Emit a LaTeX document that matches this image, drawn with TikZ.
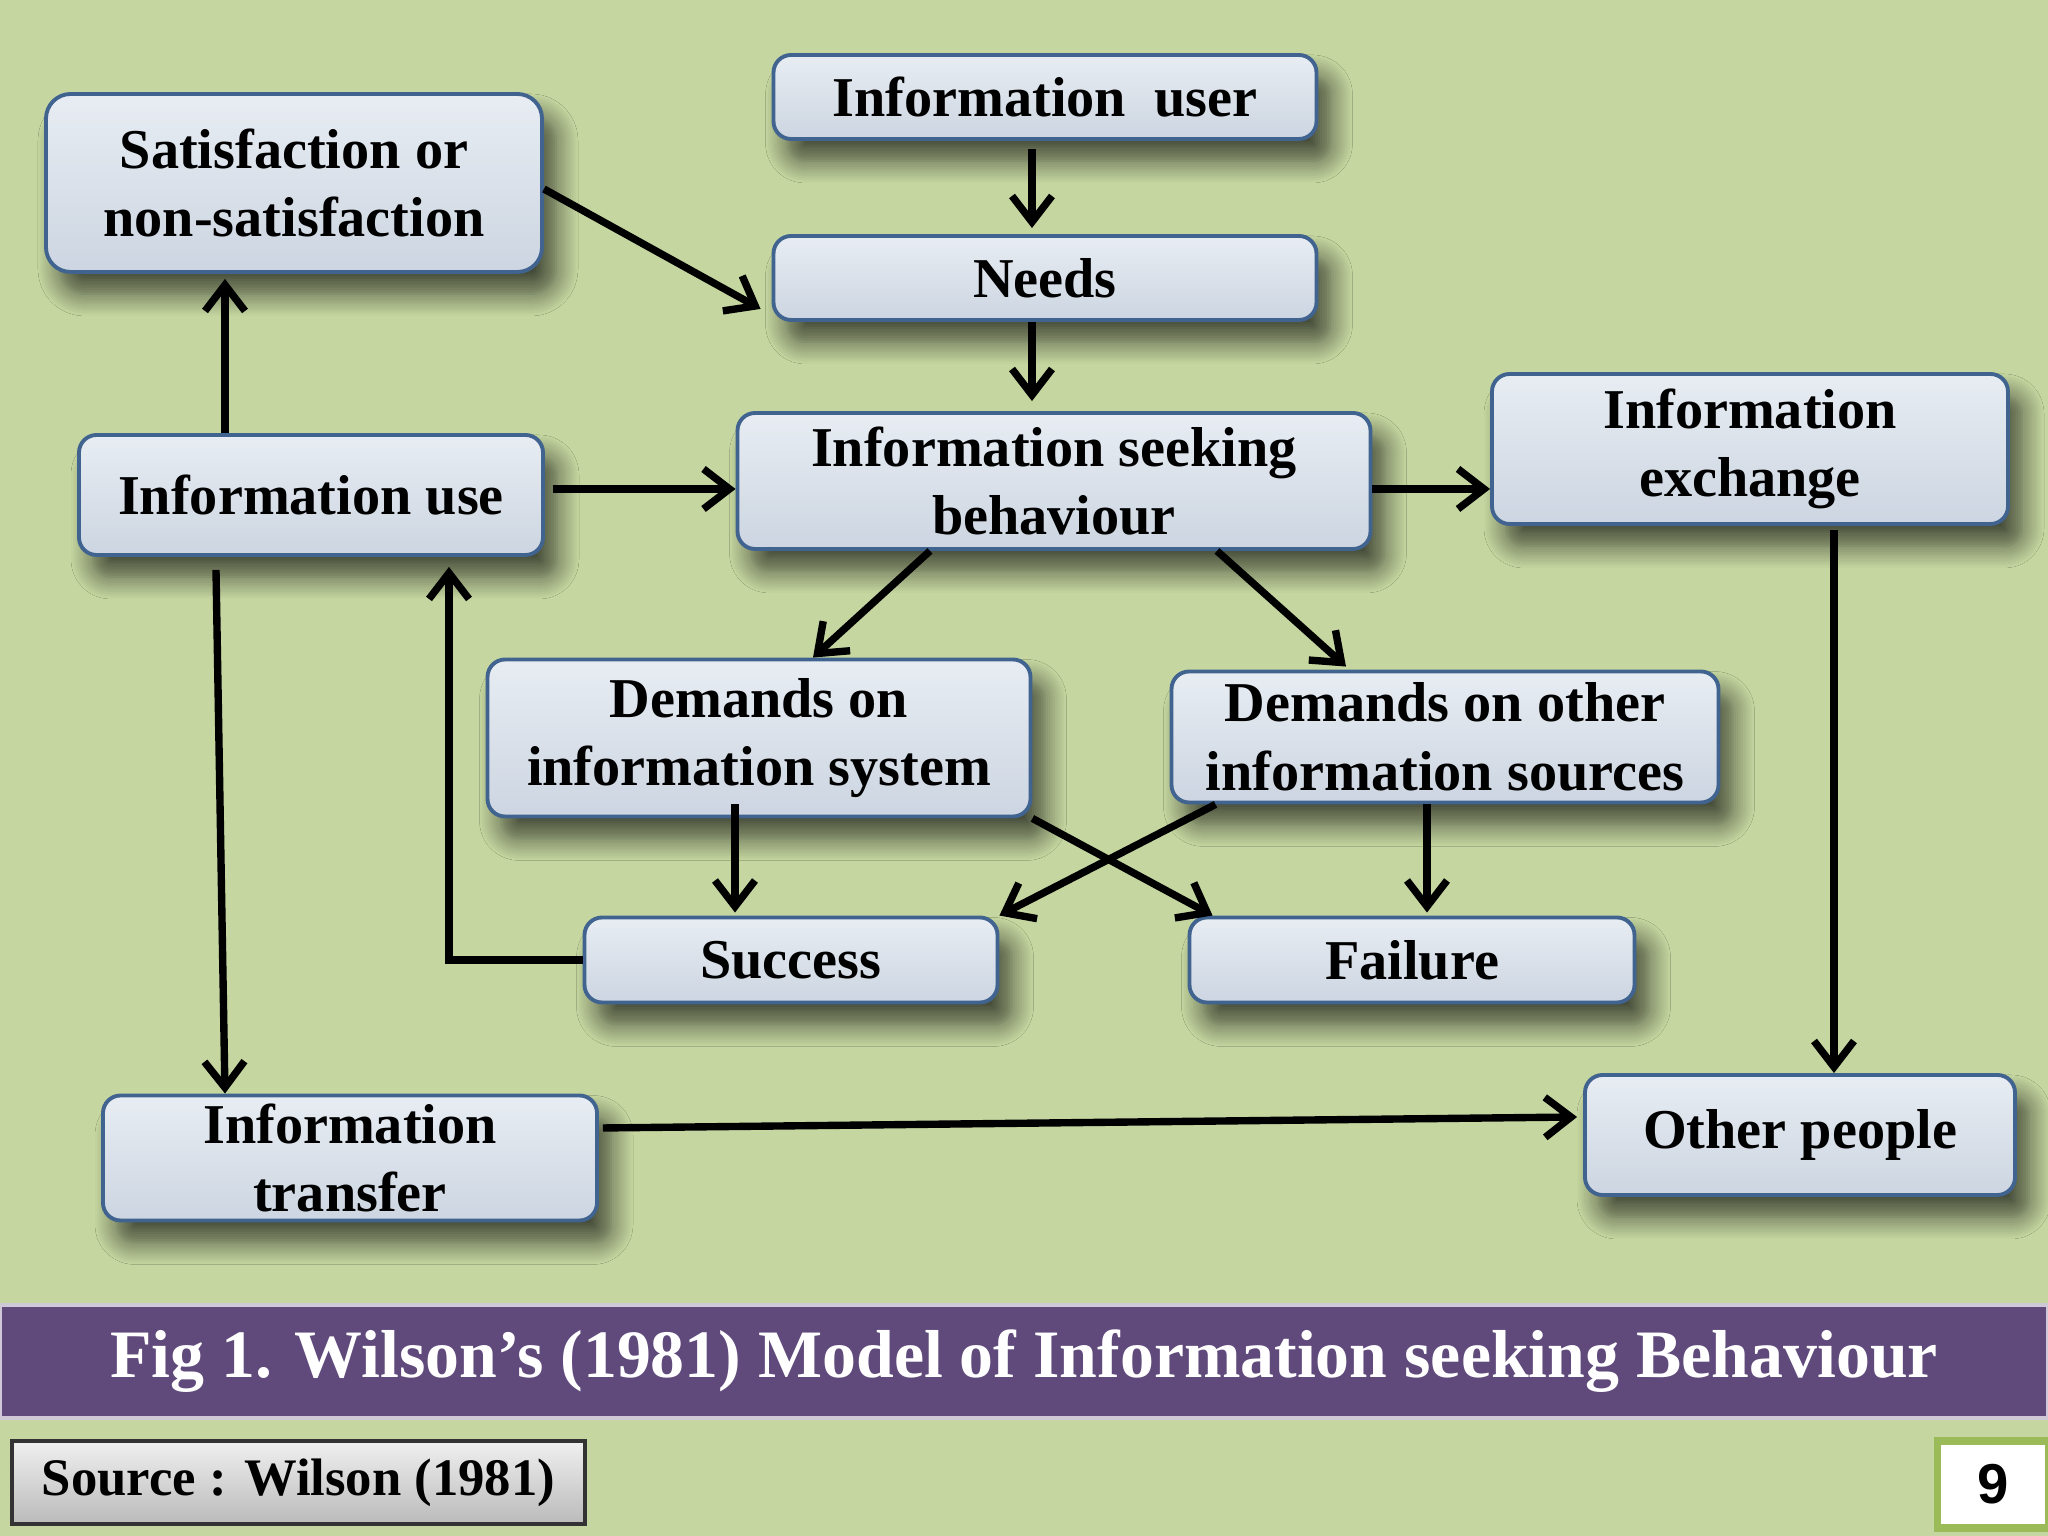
\documentclass[tikz,border=0pt]{standalone}
\usepackage{fontspec}
\setmainfont{Liberation Serif}
\newfontfamily\pagefont{Liberation Sans}
\usetikzlibrary{arrows.meta,positioning,calc,shadows.blur}
\definecolor{slidebg}{HTML}{C5D6A0}
\definecolor{barpurple}{HTML}{604A7B}
\definecolor{boxline}{HTML}{41638F}
\definecolor{boxtop}{HTML}{E8EDF3}
\definecolor{boxbot}{HTML}{CCD5E1}
\definecolor{pagegreen}{HTML}{9BBB59}

\begin{document}
\begin{tikzpicture}[
  every node/.style={font=\bfseries\fontsize{16}{19.5}\selectfont},
  bx/.style={draw=boxline,line width=1.1pt,rounded corners=5pt,align=center,inner sep=2pt,
    top color=boxtop,bottom color=boxbot,
    blur shadow={shadow blur steps=10,shadow blur radius=2.2mm,shadow xshift=1.4mm,shadow yshift=-2.2mm,shadow opacity=65}},
  bar/.style={fill=barpurple,draw=white!70!barpurple,line width=1.2pt,text=white,
    minimum width=20.48cm,minimum height=1.13cm,inner sep=0pt,font=\bfseries\fontsize{19.3}{23}\selectfont},
  src/.style={draw=black!80,line width=1.4pt,top color=black!6,bottom color=black!27,
    minimum width=5.73cm,minimum height=0.83cm,inner sep=0pt,font=\bfseries\fontsize{15}{18}\selectfont},
  pg/.style={draw=pagegreen,line width=2.2pt,fill=white,minimum width=1.11cm,minimum height=0.87cm,
    inner sep=0pt,font=\pagefont\bfseries\fontsize{16}{19}\selectfont},
  ar/.style={-{Straight Barb[length=2.6mm,width=4mm]},line width=2.1pt}]
\useasboundingbox (0,0) rectangle (20.48,15.36);
\fill[slidebg] (0,0) rectangle (20.48,15.36);
% boxes
\node[bx,minimum width=4.96cm,minimum height=1.78cm,rounded corners=7pt] (sat) at (2.94,13.53) {Satisfaction or\\non-satisfaction};
\node[bx,minimum width=5.43cm,minimum height=0.84cm] (user) at (10.45,14.39) {Information\ \ user};
\node[bx,minimum width=5.43cm,minimum height=0.84cm] (needs) at (10.45,12.58) {Needs};
\node[bx,minimum width=6.33cm,minimum height=1.36cm] (isb) at (10.54,10.55) {Information seeking\\behaviour};
\node[bx,minimum width=5.16cm,minimum height=1.50cm] (exch) at (17.50,10.87) {Information\\exchange};
\node[bx,minimum width=4.64cm,minimum height=1.20cm] (use) at (3.11,10.41) {Information use};
\node[bx,minimum width=5.43cm,minimum height=1.57cm] (dsys) at (7.59,7.98) {Demands on\\information system};
\node[bx,minimum width=5.47cm,minimum height=1.31cm] (doth) at (14.45,7.99) {Demands on other\\information sources};
\node[bx,minimum width=4.13cm,minimum height=0.85cm] (succ) at (7.91,5.76) {Success};
\node[bx,minimum width=4.45cm,minimum height=0.85cm] (fail) at (14.12,5.76) {Failure};
\node[bx,minimum width=4.94cm,minimum height=1.25cm] (trans) at (3.50,3.78) {Information\\transfer};
\node[bx,minimum width=4.30cm,minimum height=1.20cm] (other) at (18.00,4.01) {Other people};
% connectors
\draw[ar] ([xshift=-1.3mm,yshift=-0.8mm]user.south) -- ([xshift=-1.3mm,yshift=0.6mm]needs.north);
\draw[ar] ([xshift=-1.3mm]needs.south) -- ([xshift=-1.3mm,yshift=1mm]needs.south |- isb.north);
\draw[ar] ([yshift=-0.6mm]sat.east) -- ([xshift=-1.1mm,yshift=1.3mm]needs.south west);
\draw[ar] ([xshift=0.8mm,yshift=0.6mm]use.east) -- ([yshift=0.6mm]use.east -| isb.west);
\draw[ar] ([yshift=-0.8mm]isb.east) -- ([yshift=-0.8mm]isb.east -| exch.west);
\draw[ar] ([xshift=-8.6mm]use.north) -- ([xshift=-8.6mm,yshift=-0.5mm]use.north |- sat.south);
\draw[ar] ([xshift=-12.4mm]isb.south) -- ([xshift=5.4mm]dsys.north);
\draw[ar] ([xshift=16.3mm]isb.south) -- ([xshift=-9.9mm,yshift=0.3mm]doth.north);
\draw[ar] ([xshift=-2.4mm,yshift=1.4mm]dsys.south) -- ([xshift=-2.4mm,yshift=0.3mm]dsys.south |- succ.north);
\draw[ar] ([xshift=-1.8mm]doth.south) -- ([xshift=-1.8mm,yshift=0.3mm]doth.south |- fail.north);
\draw[ar] (dsys.south east) -- ([xshift=2.5mm]fail.north west);
\draw[ar] ([xshift=4.6mm]doth.south west) -- (succ.north east);
\draw[ar] (succ.west) -| ([xshift=13.8mm,yshift=-1mm]use.south);
\draw[ar] ([xshift=-9.5mm,yshift=-1.3mm]use.south) -- ([xshift=-12.5mm]trans.north);
\draw[ar] ([xshift=0.4mm,yshift=3mm]trans.east) -- ([xshift=-0.6mm,yshift=1.8mm]other.west);
\draw[ar] ([xshift=8.4mm,yshift=-0.4mm]exch.south) -- ([xshift=8.4mm]exch.south |- other.north);
% caption and footer
\node[bar] (cap) at (10.24,1.745) {Fig 1. Wilson’s (1981) Model of Information seeking Behaviour};
\node[src] (src) at (2.985,0.535) {Source : Wilson (1981)};
\node[pg] (pg) at (19.93,0.515) {9};
\end{tikzpicture}
\end{document}
